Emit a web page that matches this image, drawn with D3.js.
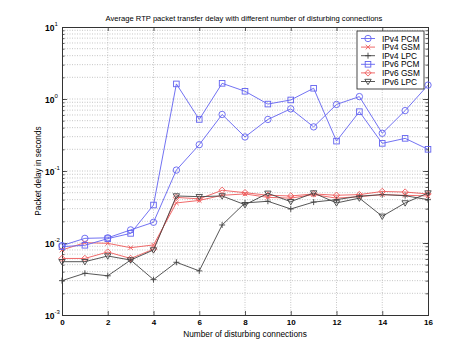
<!DOCTYPE html>
<html><head><meta charset="utf-8">
<script src="https://cdn.jsdelivr.net/npm/d3@7"></script>
<style>
body{margin:0;background:#fff;}
text{font-family:"Liberation Sans",Arial,Helvetica,sans-serif;fill:#000;}
</style></head>
<body><svg id="c" width="474" height="355"></svg>
<script>
const connections = [0,1,2,3,4,5,6,7,8,9,10,11,12,13,14,15,16];
const ipv4PCM = [0.0092,0.0116,0.0118,0.0152,0.0194,0.103,0.232,0.61,0.297,0.52,0.73,0.41,0.84,1.08,0.334,0.69,1.56];
const ipv4GSM = [0.0080,0.0101,0.0099,0.0086,0.0094,0.036,0.039,0.046,0.048,0.043,0.042,0.047,0.042,0.044,0.047,0.046,0.045];
const ipv4LPC = [0.0030,0.0038,0.0035,0.0058,0.0031,0.0054,0.0041,0.0178,0.036,0.038,0.0297,0.037,0.040,0.0447,0.047,0.0454,0.040];
const ipv6PCM = [0.0089,0.0093,0.0115,0.0136,0.0337,1.62,0.52,1.65,1.28,0.85,0.97,1.41,0.26,0.667,0.242,0.284,0.20];
const ipv6GSM = [0.0061,0.0061,0.0075,0.0061,0.0082,0.043,0.041,0.054,0.050,0.046,0.045,0.048,0.046,0.047,0.052,0.051,0.048];
const ipv6LPC = [0.0055,0.0055,0.0066,0.0058,0.0080,0.045,0.044,0.045,0.034,0.049,0.0375,0.0495,0.036,0.042,0.0235,0.036,0.0495];
const seriesNames = ["IPv4 PCM","IPv4 GSM","IPv4 LPC","IPv6 PCM","IPv6 GSM","IPv6 LPC"];
const xTicks = [0,2,4,6,8,10,12,14,16];
const yExponents = [-3,-2,-1,0,1];
const titleText = "Average RTP packet transfer delay with different number of disturbing connections";
const xLabel = "Number of disturbing connections";
const yLabel = "Packet delay in seconds";

const series = [
  {name:seriesNames[0], values:ipv4PCM, color:"#6262f0", marker:"circle"},
  {name:seriesNames[1], values:ipv4GSM, color:"#ee5a5a", marker:"x"},
  {name:seriesNames[2], values:ipv4LPC, color:"#444444", marker:"plus"},
  {name:seriesNames[3], values:ipv6PCM, color:"#6262f0", marker:"square"},
  {name:seriesNames[4], values:ipv6GSM, color:"#ee5a5a", marker:"diamond"},
  {name:seriesNames[5], values:ipv6LPC, color:"#444444", marker:"tri"}
];

const L=62,R=428,T=27,B=315;
const svg = d3.select("#c");
const x = d3.scaleLinear().domain([0,16]).range([L,R]);
const y = d3.scaleLog().domain([1e-3,1e1]).range([B,T]);

// grid
const minorVals=[];
for(let e=-3;e<1;e++){for(let m=1;m<10;m++){minorVals.push(m*Math.pow(10,e));}}
minorVals.push(10);
const g = svg.append("g");
g.selectAll("line.hy").data(minorVals.filter(v=>v>1e-3&&v<10)).enter().append("line")
 .attr("x1",L).attr("x2",R).attr("y1",d=>y(d)).attr("y2",d=>y(d))
 .attr("stroke","#b8b8b8").attr("stroke-width",0.8).attr("stroke-dasharray","1,1.5");
g.selectAll("line.vx").data(xTicks.filter(v=>v>0&&v<16)).enter().append("line")
 .attr("y1",T).attr("y2",B).attr("x1",d=>x(d)).attr("x2",d=>x(d))
 .attr("stroke","#b8b8b8").attr("stroke-width",0.8).attr("stroke-dasharray","1,1.5");

// axes ticks
const ax = svg.append("g");
const axBottom = d3.axisBottom(x).tickValues(xTicks).tickSize(-4).tickPadding(4).tickFormat(d3.format("d"));
const axTop = d3.axisTop(x).tickValues(xTicks).tickSize(-4).tickFormat("");
const leftMinor = d3.axisLeft(y).tickValues(minorVals).tickSize(-2.5).tickFormat("");
const leftMajor = d3.axisLeft(y).tickValues(yExponents.map(e=>Math.pow(10,e))).tickSize(-5).tickFormat("");
const rightMinor = d3.axisRight(y).tickValues(minorVals).tickSize(-2.5).tickFormat("");
const rightMajor = d3.axisRight(y).tickValues(yExponents.map(e=>Math.pow(10,e))).tickSize(-5).tickFormat("");
const gb = ax.append("g").attr("transform",`translate(0,${B})`).call(axBottom);
ax.append("g").attr("transform",`translate(0,${T})`).call(axTop);
ax.append("g").attr("transform",`translate(${L},0)`).call(leftMinor);
const gl = ax.append("g").attr("transform",`translate(${L},0)`).call(leftMajor);
ax.append("g").attr("transform",`translate(${R},0)`).call(rightMinor);
ax.append("g").attr("transform",`translate(${R},0)`).call(rightMajor);
ax.selectAll(".domain").attr("stroke","#333").attr("stroke-width",1);
ax.selectAll(".tick line").attr("stroke","#333").attr("stroke-width",0.8);
gb.selectAll(".tick text").attr("font-size","8px").attr("font-weight","bold").attr("fill","#111")
  .style("font-family","'Liberation Sans',Arial,sans-serif");

// y labels with superscripts
gl.selectAll(".tick").each(function(d){
  const e = Math.round(Math.log10(d));
  const t = d3.select(this).append("text").attr("x",-17).attr("y",3).attr("text-anchor","start")
    .attr("font-size","8.5px").attr("font-weight","bold").attr("fill","#111");
  t.append("tspan").text("10");
  t.append("tspan").attr("dy",-5).attr("font-size","6px").attr("font-weight","normal").text(String(e));
});

// marker drawing
function drawMarker(sel, type, color){
  const s=3.2;
  if(type==="circle") sel.append("circle").attr("r",3.2).attr("fill","none").attr("stroke",color).attr("stroke-width",0.9);
  else if(type==="square") sel.append("rect").attr("x",-2.8).attr("y",-2.8).attr("width",5.6).attr("height",5.6).attr("fill","none").attr("stroke",color).attr("stroke-width",0.9);
  else if(type==="x") sel.append("path").attr("d",`M${-2.3},${-2.3}L2.3,2.3M${-2.3},2.3L2.3,${-2.3}`).attr("stroke",color).attr("stroke-width",0.9);
  else if(type==="plus") sel.append("path").attr("d",`M-3,0H3M0,-3V3`).attr("stroke",color).attr("stroke-width",0.9);
  else if(type==="diamond") sel.append("path").attr("d",`M0,${-s}L${s},0L0,${s}L${-s},0Z`).attr("fill","none").attr("stroke",color).attr("stroke-width",0.9);
  else if(type==="tri") sel.append("path").attr("d",`M${-s},${-2.2}L${s},${-2.2}L0,${3.2}Z`).attr("fill","none").attr("stroke",color).attr("stroke-width",0.9);
}

const line = d3.line().x((d,i)=>x(connections[i])).y(d=>y(d));
const plot = svg.append("g");
series.forEach(s=>{
  plot.append("path").datum(s.values).attr("d",line).attr("fill","none").attr("stroke",s.color).attr("stroke-width",0.9);
  plot.selectAll(null).data(s.values).enter().append("g")
    .attr("transform",(d,i)=>`translate(${x(connections[i])},${y(d)})`)
    .each(function(){drawMarker(d3.select(this), s.marker, s.color);});
});

// legend
const lg = svg.append("g").attr("transform","translate(357,31)");
lg.append("rect").attr("x",0).attr("y",0).attr("width",67).attr("height",58).attr("fill","#fff").attr("stroke","#333").attr("stroke-width",0.9);
series.forEach((s,i)=>{
  const yy = 7.5 + i*8.6;
  lg.append("line").attr("x1",4).attr("x2",18).attr("y1",yy).attr("y2",yy).attr("stroke",s.color).attr("stroke-width",0.9);
  drawMarker(lg.append("g").attr("transform",`translate(11,${yy})`), s.marker, s.color);
  lg.append("text").attr("x",25).attr("y",yy+3).attr("font-size","8.3px").text(s.name);
});

// title and labels
svg.append("text").attr("x",244).attr("y",21).attr("text-anchor","middle").attr("font-size","7.6px").text(titleText);
svg.append("text").attr("x",245).attr("y",337).attr("text-anchor","middle").attr("font-size","8.3px").text(xLabel);
svg.append("text").attr("transform","translate(41,171) rotate(-90)").attr("text-anchor","middle").attr("font-size","8.3px").text(yLabel);
</script></body></html>
